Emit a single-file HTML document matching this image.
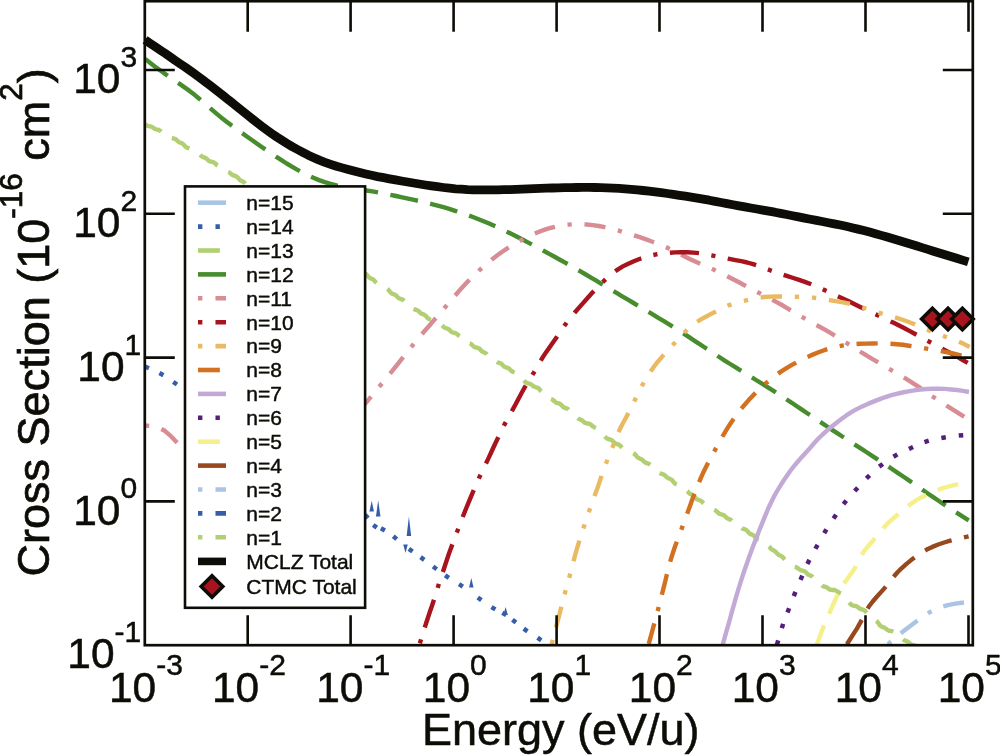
<!DOCTYPE html>
<html lang="en"><head><meta charset="utf-8"><title>Cross Section vs Energy</title>
<style>html,body{margin:0;padding:0;background:#fff}body{width:1000px;height:755px;overflow:hidden}svg{display:block}</style></head>
<body>
<svg width="1000" height="755" viewBox="0 0 1000 755">
<defs><clipPath id="pc"><rect x="144.8" y="1.2" width="828.0" height="644.0"/></clipPath></defs>
<rect width="1000" height="755" fill="#fff"/>
<g clip-path="url(#pc)" fill="none" stroke-linejoin="round">
<g fill="#355da8" stroke="none"><rect x="-2.25" y="-2.25" width="4.5" height="4.5" transform="translate(146.9,367.4) rotate(24)"/><rect x="-2.25" y="-2.25" width="4.5" height="4.5" transform="translate(161.4,374.1) rotate(28)"/><rect x="-2.25" y="-2.25" width="4.5" height="4.5" transform="translate(175.1,383.2) rotate(35)"/></g>
<g fill="#355da8" stroke="none"><rect x="-2.25" y="-2.25" width="4.5" height="4.5" transform="translate(366.5,516.4) rotate(47)"/><rect x="-2.25" y="-2.25" width="4.5" height="4.5" transform="translate(375.0,526.3) rotate(37)"/><rect x="-2.25" y="-2.25" width="4.5" height="4.5" transform="translate(382.9,529.4) rotate(28)"/><rect x="-2.25" y="-2.25" width="4.5" height="4.5" transform="translate(395.0,537.7) rotate(40)"/><rect x="-2.25" y="-2.25" width="4.5" height="4.5" transform="translate(410.7,550.2) rotate(36)"/><rect x="-2.25" y="-2.25" width="4.5" height="4.5" transform="translate(422.4,558.5) rotate(36)"/><rect x="-2.25" y="-2.25" width="4.5" height="4.5" transform="translate(434.9,567.9) rotate(37)"/><rect x="-2.25" y="-2.25" width="4.5" height="4.5" transform="translate(447.0,576.7) rotate(34)"/><rect x="-2.25" y="-2.25" width="4.5" height="4.5" transform="translate(460.9,585.3) rotate(33)"/><rect x="-2.25" y="-2.25" width="4.5" height="4.5" transform="translate(479.6,598.8) rotate(37)"/><rect x="-2.25" y="-2.25" width="4.5" height="4.5" transform="translate(493.4,608.2) rotate(30)"/><rect x="-2.25" y="-2.25" width="4.5" height="4.5" transform="translate(504.3,613.9) rotate(31)"/><rect x="-2.25" y="-2.25" width="4.5" height="4.5" transform="translate(514.2,621.2) rotate(39)"/><rect x="-2.25" y="-2.25" width="4.5" height="4.5" transform="translate(525.6,630.0) rotate(36)"/><rect x="-2.25" y="-2.25" width="4.5" height="4.5" transform="translate(539.4,639.0) rotate(35)"/></g>
<path d="M145.1,124.2 L146.3,125.2 L147.6,125.9 L149.2,126.2 L150.7,126.4 L152.1,127.0 L153.4,127.8 L154.6,128.7 L156.0,129.3 L157.5,129.6 L159.0,130.0 L160.3,130.8 L161.4,131.9 L162.6,133.0 L163.8,133.8 L165.3,134.3 L166.8,134.7 L168.1,135.5 L169.2,136.5 L170.4,137.5 L171.7,138.1 L173.3,138.4 L174.8,138.8 L176.1,139.5 L177.2,140.6 L178.4,141.7 L179.6,142.5 L181.1,143.0 L182.5,143.6 L183.7,144.6 L184.7,145.8 L185.7,146.9 L187.0,147.7 L188.5,148.1 L190.0,148.6 L191.3,149.3 L192.5,150.3 L193.6,151.3 L195.0,151.9 L196.5,152.4 L198.0,152.8 L199.2,153.7 L200.3,154.9 L201.3,156.0 L202.6,156.9 L204.0,157.4 L205.4,157.9 L206.7,158.8 L207.8,159.9 L208.9,160.9 L210.3,161.5 L211.9,161.9 L213.4,162.2 L214.7,163.0 L215.8,164.0 L217.0,165.1 L218.3,165.8 L219.7,166.3 L221.1,166.9 L222.3,167.9 L223.3,169.1 L224.4,170.3 L225.7,171.0 L227.1,171.5 L228.6,172.0 L229.9,172.8 L231.0,173.8 L232.1,174.8 L233.5,175.5 L235.0,175.9 L236.5,176.5 L237.7,177.4 L238.7,178.6 L239.7,179.8 L240.9,180.7 L242.3,181.3 L243.6,182.0 L244.8,183.0 L245.7,184.2 L246.8,185.3 L248.1,186.1 L249.6,186.6 L251.1,187.1 L252.3,188.0 L253.3,189.2 L254.3,190.3 L255.5,191.2 L256.9,191.8 L258.2,192.6 L259.3,193.7 L260.1,195.1 L261.0,196.3 L262.2,197.2 L263.6,197.9 L265.0,198.6 L266.1,199.6 L267.1,200.8 L268.1,201.9 L269.4,202.7 L270.9,203.3 L272.3,204.0 L273.4,205.0 L274.2,206.3 L275.1,207.6 L276.3,208.6 L277.6,209.3 L278.9,210.1 L279.9,211.3 L280.8,212.6 L281.7,213.8 L283.0,214.6 L284.5,215.2 L285.9,215.9 L287.0,216.9 L288.0,218.1 L289.0,219.2 L290.3,220.0 L291.7,220.7 L293.0,221.5 L294.0,222.6 L294.8,224.0 L295.7,225.3 L296.9,226.2 L298.3,226.8 L299.6,227.6 L300.8,228.6 L301.7,229.8 L302.8,230.8 L304.2,231.5 L305.7,232.0 L307.1,232.7 L308.2,233.7 L309.1,235.0 L310.2,236.1 L311.4,237.0 L312.8,237.6 L314.1,238.4 L315.1,239.5 L316.0,240.8 L317.1,241.9 L318.4,242.6 L319.9,243.1 L321.4,243.7 L322.5,244.7 L323.6,245.8 L324.7,246.8 L326.1,247.4 L327.6,248.0 L328.9,248.7 L330.0,249.8 L330.9,251.1 L331.9,252.2 L333.2,253.0 L334.6,253.6 L336.0,254.3 L337.1,255.3 L338.2,256.4 L339.3,257.4 L340.7,258.0 L342.3,258.4 L343.7,259.0 L344.9,259.9 L345.9,261.1 L347.0,262.2 L348.3,262.9 L349.8,263.5 L351.1,264.3 L352.1,265.4 L353.1,266.6 L354.2,267.7 L355.5,268.4 L357.0,268.8 L358.5,269.4 L359.6,270.4 L360.7,271.5 L361.9,272.4 L363.3,273.0 L364.8,273.4 L366.2,274.1 L367.3,275.2 L368.2,276.5 L369.3,277.6 L370.6,278.4 L372.0,278.9 L373.3,279.7 L374.4,280.7 L375.4,281.9 L376.6,282.9 L378.0,283.4 L379.6,283.8 L381.0,284.4 L382.2,285.4 L383.2,286.6 L384.3,287.6 L385.6,288.3 L387.1,288.9 L388.3,289.7 L389.4,290.9 L390.3,292.2 L391.4,293.3 L392.7,293.9 L394.2,294.5 L395.6,295.1 L396.7,296.1 L397.7,297.3 L398.9,298.2 L400.4,298.8 L401.9,299.3 L403.2,300.0 L404.2,301.1 L405.2,302.4 L406.2,303.5 L407.5,304.3 L408.9,304.9 L410.2,305.7 L411.3,306.8 L412.2,308.0 L413.4,309.0 L414.9,309.5 L416.4,309.9 L417.8,310.6 L419.0,311.5 L420.0,312.6 L421.2,313.6 L422.6,314.2 L424.1,314.7 L425.4,315.5 L426.4,316.6 L427.4,317.8 L428.6,318.8 L430.0,319.4 L431.5,319.8 L432.9,320.4 L434.1,321.4 L435.2,322.4 L436.5,323.1 L438.0,323.6 L439.6,323.9 L441.0,324.5 L442.1,325.4 L443.2,326.6 L444.4,327.5 L445.8,328.1 L447.3,328.6 L448.6,329.3 L449.8,330.3 L450.9,331.4 L452.1,332.3 L453.6,332.7 L455.1,333.1 L456.5,333.6 L457.7,334.6 L458.8,335.7 L460.0,336.6 L461.4,337.2 L462.9,337.7 L464.1,338.6 L465.1,339.8 L466.0,341.1 L467.1,342.2 L468.5,342.9 L469.9,343.4 L471.2,344.2 L472.3,345.2 L473.4,346.3 L474.7,347.1 L476.2,347.5 L477.8,347.9 L479.2,348.5 L480.3,349.6 L481.3,350.7 L482.5,351.7 L483.9,352.3 L485.3,352.9 L486.5,353.8 L487.5,355.1 L488.4,356.3 L489.5,357.3 L490.9,358.0 L492.4,358.5 L493.7,359.2 L494.8,360.3 L495.9,361.4 L497.2,362.2 L498.6,362.7 L500.1,363.1 L501.4,363.8 L502.5,364.9 L503.6,366.1 L504.9,367.0 L506.3,367.5 L507.8,367.9 L509.1,368.7 L510.2,369.7 L511.3,370.8 L512.5,371.6 L513.9,372.2 L515.4,372.8 L516.7,373.6 L517.6,374.8 L518.5,376.1 L519.6,377.2 L520.9,377.9 L522.3,378.7 L523.4,379.6 L524.4,380.9 L525.4,382.1 L526.6,382.9 L528.1,383.4 L529.7,383.7 L531.0,384.4 L532.3,385.3 L533.4,386.2 L534.8,386.9 L536.3,387.3 L537.8,387.8 L539.0,388.7 L540.0,389.9 L540.9,391.2 L542.0,392.3 L543.3,393.1 L544.6,393.9 L545.7,394.9 L546.6,396.1 L547.5,397.4 L548.8,398.3 L550.2,398.8 L551.7,399.3 L553.1,400.0 L554.2,401.0 L555.3,402.0 L556.6,402.8 L558.1,403.2 L559.6,403.7 L560.9,404.5 L562.0,405.6 L563.0,406.8 L564.3,407.6 L565.7,408.1 L567.2,408.6 L568.4,409.5 L569.4,410.6 L570.4,411.8 L571.6,412.7 L573.0,413.4 L574.4,414.1 L575.5,415.2 L576.3,416.5 L577.2,417.7 L578.4,418.7 L579.8,419.3 L581.2,419.9 L582.5,420.7 L583.6,421.7 L584.8,422.7 L586.2,423.3 L587.8,423.5 L589.4,423.8 L590.7,424.5 L591.9,425.5 L593.0,426.5 L594.3,427.3 L595.7,427.9 L597.1,428.6 L598.1,429.7 L598.9,431.1 L599.7,432.5 L600.8,433.5 L602.1,434.3 L603.5,435.0 L604.6,436.0 L605.6,437.2 L606.7,438.3 L608.1,439.0 L609.6,439.4 L611.1,439.8 L612.3,440.6 L613.4,441.7 L614.5,442.8 L615.8,443.6 L617.3,444.1 L618.7,444.6 L620.0,445.5 L621.1,446.6 L622.2,447.7 L623.6,448.3 L625.1,448.7 L626.6,449.1 L627.9,449.9 L629.0,450.9 L630.2,451.9 L631.5,452.6 L633.0,453.1 L634.3,453.8 L635.5,454.8 L636.4,456.1 L637.4,457.2 L638.7,458.1 L640.1,458.7 L641.5,459.3 L642.7,460.2 L643.8,461.3 L644.9,462.3 L646.3,463.0 L647.8,463.4 L649.2,464.0 L650.4,464.9 L651.4,466.1 L652.5,467.2 L653.7,468.1 L655.1,468.7 L656.4,469.4 L657.5,470.5 L658.5,471.7 L659.5,472.9 L660.9,473.6 L662.4,474.1 L663.8,474.6 L665.0,475.5 L666.1,476.6 L667.2,477.6 L668.6,478.3 L670.0,478.9 L671.4,479.5 L672.5,480.6 L673.4,481.9 L674.4,483.1 L675.7,483.9 L677.1,484.5 L678.5,485.2 L679.6,486.2 L680.6,487.3 L681.7,488.4 L683.1,489.0 L684.7,489.5 L686.1,490.0 L687.3,491.0 L688.3,492.1 L689.3,493.3 L690.6,494.1 L692.0,494.7 L693.3,495.4 L694.4,496.5 L695.3,497.8 L696.4,498.9 L697.7,499.7 L699.2,500.1 L700.7,500.7 L701.9,501.6 L703.0,502.7 L704.1,503.6 L705.5,504.2 L707.0,504.7 L708.4,505.3 L709.6,506.3 L710.6,507.5 L711.6,508.7 L712.9,509.4 L714.4,510.0 L715.7,510.6 L716.9,511.6 L718.0,512.7 L719.1,513.7 L720.6,514.2 L722.1,514.6 L723.6,515.1 L724.8,516.0 L725.9,517.1 L727.0,518.1 L728.3,518.8 L729.8,519.3 L731.1,520.1 L732.2,521.2 L733.1,522.4 L734.2,523.5 L735.6,524.3 L737.0,524.7 L738.5,525.3 L739.6,526.3 L740.7,527.3 L741.9,528.3 L743.3,528.9 L744.9,529.3 L746.2,529.9 L747.4,531.0 L748.3,532.2 L749.4,533.3 L750.7,534.1 L752.1,534.6 L753.5,535.4 L754.6,536.4 L755.6,537.6 L756.7,538.6 L758.2,539.2 L759.7,539.6 L761.1,540.2 L762.3,541.1 L763.3,542.3 L764.5,543.3 L765.8,544.0 L767.2,544.6 L768.5,545.4 L769.5,546.6 L770.3,548.0 L771.3,549.2 L772.6,550.0 L774.0,550.6 L775.3,551.4 L776.3,552.5 L777.3,553.7 L778.4,554.7 L779.8,555.4 L781.2,556.0 L782.5,556.8 L783.5,558.0 L784.4,559.3 L785.4,560.5 L786.6,561.3 L788.0,562.0 L789.2,562.9 L790.3,564.0 L791.2,565.3 L792.4,566.2 L793.9,566.8 L795.4,567.1 L796.9,567.6 L798.1,568.4 L799.3,569.4 L800.7,570.1 L802.1,570.6 L803.7,570.9 L805.0,571.5 L806.2,572.6 L807.3,573.8 L808.4,574.7 L809.8,575.4 L811.2,575.9 L812.5,576.7 L813.5,577.8 L814.4,579.1 L815.5,580.1 L816.9,580.9 L818.3,581.6 L819.5,582.4 L820.5,583.6 L821.4,584.9 L822.5,585.9 L823.9,586.5 L825.4,586.9 L826.8,587.4 L828.0,588.3 L829.3,589.3 L830.8,589.9 L832.3,590.0 L833.9,590.0 L835.4,590.4 L836.8,591.1 L838.0,592.0 L839.3,592.7 L840.7,593.3 L842.1,593.9 L843.2,594.9 L844.0,596.3 L844.6,597.8 L845.5,599.1 L846.6,600.1 L847.9,601.0 L849.0,602.0 L849.9,603.3 L850.9,604.4 L852.2,605.3 L853.7,605.7 L855.3,605.9 L856.7,606.4 L858.0,607.3 L859.2,608.3 L860.6,609.0 L862.1,609.4 L863.5,609.8 L864.8,610.6 L865.9,611.8 L866.9,612.9 L868.0,613.9 L869.3,614.6 L870.7,615.3 L871.8,616.3 L872.6,617.6 L873.4,618.9 L874.5,620.0 L875.8,620.9 L877.1,621.7 L878.1,622.8 L879.0,624.0 L879.8,625.3 L881.0,626.3 L882.4,626.9 L883.8,627.4 L885.2,628.1 L886.3,629.1 L887.6,630.1 L889.0,630.7 L890.5,630.9 L892.1,631.2 L893.5,631.8 L894.7,632.7 L895.9,633.8 L897.2,634.6 L898.6,635.2 L900.0,635.8 L901.1,636.8 L902.1,638.1 L903.0,639.3 L904.2,640.3 L905.6,640.8 L907.1,641.4 L908.4,642.1 L909.5,643.2 L910.7,644.2 L912.0,644.8 L913.6,645.2 L915.1,645.6 L916.3,646.5" stroke="#b2d073" stroke-width="4.4" stroke-dasharray="21.04,12.62" stroke-dashoffset="2.94"/>
<path d="M145.2,59.0 L150.0,62.7 L154.8,66.4 L159.7,70.0 L164.6,73.6 L169.6,77.1 L174.6,80.5 L179.6,83.9 L184.6,87.4 L189.5,90.9 L194.3,94.6 L199.0,98.5 L203.6,102.4 L208.2,106.4 L212.7,110.4 L217.4,114.4 L222.1,118.2 L226.9,121.9 L231.7,125.6 L236.6,129.1 L241.6,132.7 L246.5,136.2 L251.5,139.7 L256.4,143.2 L261.4,146.7 L266.4,150.1 L271.4,153.5 L276.4,156.9 L281.5,160.2 L286.7,163.5 L291.9,166.6 L297.1,169.6 L302.5,172.5 L307.9,175.3 L313.4,177.8 L319.0,180.1 L324.8,182.1 L330.6,183.9 L336.5,185.4 L342.4,186.7 L348.4,187.8 L354.4,188.7 L360.4,189.6 L366.4,190.5 L372.4,191.4 L378.4,192.5 L384.3,193.6 L390.3,194.8 L396.2,196.0 L402.2,197.3 L408.1,198.6 L414.0,199.9 L420.0,201.2 L425.9,202.6 L431.7,204.1 L437.6,205.6 L443.5,207.2 L449.3,208.9 L455.1,210.8 L460.8,212.7 L466.6,214.7 L472.3,216.8 L477.9,219.0 L483.6,221.2 L489.2,223.6 L494.7,226.1 L500.2,228.6 L505.7,231.2 L511.2,233.8 L516.6,236.5 L522.0,239.3 L527.4,242.1 L532.8,244.9 L538.1,247.8 L543.5,250.7 L548.8,253.6 L554.1,256.5 L559.4,259.5 L564.7,262.4 L570.0,265.4 L575.3,268.4 L580.5,271.4 L585.8,274.5 L591.0,277.6 L596.2,280.7 L601.4,283.8 L606.6,287.0 L611.8,290.1 L617.0,293.2 L622.2,296.3 L627.5,299.4 L632.7,302.5 L637.9,305.6 L643.1,308.7 L648.3,311.8 L653.5,314.9 L658.7,318.1 L663.9,321.2 L669.1,324.4 L674.2,327.6 L679.3,330.9 L684.5,334.1 L689.5,337.4 L694.6,340.8 L699.7,344.1 L704.8,347.5 L709.8,350.8 L714.9,354.1 L720.0,357.5 L725.1,360.8 L730.2,364.0 L735.3,367.2 L740.5,370.4 L745.7,373.6 L750.8,376.8 L756.0,380.0 L761.2,383.1 L766.3,386.4 L771.5,389.6 L776.6,392.9 L781.7,396.2 L786.7,399.5 L791.8,402.8 L796.8,406.2 L801.9,409.6 L806.9,413.0 L812.0,416.3 L817.0,419.7 L822.0,423.1 L827.1,426.5 L832.1,429.8 L837.2,433.2 L842.3,436.5 L847.4,439.8 L852.5,443.1 L857.6,446.4 L862.7,449.7 L867.8,453.0 L872.9,456.3 L877.9,459.6 L883.0,463.0 L888.1,466.3 L893.1,469.7 L898.1,473.1 L903.2,476.5 L908.2,479.9 L913.2,483.4 L918.2,486.8 L923.2,490.3 L928.2,493.7 L933.2,497.1 L938.2,500.5 L943.2,503.9 L948.3,507.3 L953.4,510.6 L958.5,513.9 L963.6,517.1 L968.7,520.4" stroke="#478d2e" stroke-width="4.4" stroke-dasharray="28.24,12.55" stroke-dashoffset="0.14"/>
<path d="M145.0,425.5 L152.1,426.1 L158.8,427.6 L164.8,430.8 L170.0,435.3 L175.0,440.5 L179.9,445.6 L184.9,450.4 L190.0,455.0" stroke="#d88c93" stroke-width="4.4" stroke-dasharray="4.22,12.66,21.1,12.66" stroke-dashoffset="0"/>
<path d="M340.0,432.0 L344.1,427.5 L348.1,423.0 L352.1,418.5 L356.2,413.9 L360.2,409.4 L364.1,404.8 L368.1,400.2 L372.0,395.5 L375.9,390.9 L379.7,386.2 L383.6,381.5 L387.5,376.9 L391.3,372.2 L395.1,367.4 L398.9,362.7 L402.6,357.9 L406.3,353.1 L410.1,348.4 L413.9,343.7 L417.8,339.0 L421.7,334.4 L425.7,329.8 L429.7,325.2 L433.6,320.6 L437.6,316.0 L441.5,311.4 L445.5,306.8 L449.4,302.2 L453.3,297.5 L457.3,293.0 L461.3,288.4 L465.4,284.0 L469.6,279.6 L473.9,275.3 L478.3,271.2 L482.8,267.1 L487.5,263.1 L492.2,259.3 L497.0,255.6 L501.9,252.0 L506.9,248.6 L512.0,245.4 L517.3,242.3 L522.6,239.4 L528.0,236.6 L533.5,234.0 L539.1,231.7 L544.8,229.6 L550.6,227.9 L556.5,226.4 L562.5,225.3 L568.5,224.6 L574.6,224.2 L580.7,224.2 L586.7,224.5 L592.8,225.1 L598.8,226.0 L604.7,227.2 L610.7,228.5 L616.5,230.0 L622.4,231.7 L628.2,233.5 L633.9,235.3 L639.7,237.2 L645.4,239.2 L651.1,241.3 L656.8,243.4 L662.5,245.6 L668.0,248.1 L673.5,250.7 L678.9,253.5 L684.3,256.2 L689.7,259.0 L695.2,261.5 L700.7,264.0 L706.3,266.4 L711.8,268.8 L717.4,271.4 L722.8,274.0 L728.2,276.7 L733.6,279.5 L739.0,282.3 L744.4,285.2 L749.7,288.0 L755.1,290.8 L760.5,293.6 L765.8,296.4 L771.2,299.2 L776.6,302.1 L781.9,305.0 L787.1,308.1 L792.3,311.2 L797.5,314.3 L802.8,317.4 L808.0,320.4 L813.4,323.3 L818.7,326.2 L824.0,329.1 L829.2,332.2 L834.4,335.3 L839.5,338.6 L844.6,341.8 L849.8,345.1 L854.9,348.3 L860.0,351.5 L865.2,354.7 L870.4,357.8 L875.6,360.9 L880.8,364.0 L886.1,367.1 L891.3,370.1 L896.6,373.2 L901.8,376.2 L907.0,379.4 L912.1,382.6 L917.2,385.9 L922.2,389.3 L927.2,392.8 L932.2,396.2 L937.2,399.6 L942.3,402.9 L947.4,406.2 L952.5,409.4 L957.7,412.7 L962.8,415.8 L968.0,419.0" stroke="#d88c93" stroke-width="4.4" stroke-dasharray="4.24,12.73,21.22,12.73" stroke-dashoffset="41.97"/>
<path d="M415.4,658.1 L417.2,652.3 L419.0,646.5 L420.7,640.7 L422.5,634.9 L424.2,629.1 L426.1,623.3 L428.0,617.5 L429.9,611.8 L431.9,606.0 L433.8,600.2 L435.6,594.4 L437.4,588.6 L439.2,582.8 L441.2,577.1 L443.1,571.3 L445.0,565.5 L446.9,559.7 L448.8,554.0 L450.9,548.3 L453.0,542.6 L455.1,536.9 L457.3,531.2 L459.5,525.5 L461.6,519.8 L463.8,514.2 L466.1,508.5 L468.4,502.9 L470.7,497.3 L473.1,491.7 L475.5,486.1 L477.9,480.5 L480.4,475.0 L483.0,469.5 L485.7,464.0 L488.3,458.6 L490.9,453.0 L493.4,447.5 L496.0,442.0 L498.6,436.5 L501.2,431.0 L503.9,425.6 L506.8,420.3 L509.8,415.0 L512.7,409.6 L515.6,404.3 L518.4,398.9 L521.3,393.5 L524.2,388.2 L527.4,383.0 L530.6,377.9 L533.8,372.7 L536.8,367.4 L539.8,362.1 L543.0,356.9 L546.3,351.9 L549.8,346.9 L553.3,341.9 L556.8,336.9 L560.1,331.9 L563.6,326.9 L567.1,322.0 L570.9,317.2 L574.8,312.5 L578.8,307.9 L582.8,303.4 L586.9,298.8 L590.9,294.3 L595.1,289.8 L599.3,285.5 L603.6,281.2 L608.1,277.0 L612.7,273.1 L617.6,269.6 L622.8,266.4 L628.3,263.7 L633.8,261.2 L639.5,259.0 L645.3,257.1 L651.1,255.5 L657.1,254.2 L663.1,253.3 L669.2,252.8 L675.2,252.4 L681.3,252.2 L687.4,252.3 L693.5,252.6 L699.5,253.2 L705.5,254.1 L711.5,255.3 L717.5,256.5 L723.4,257.7 L729.4,258.9 L735.4,260.1 L741.3,261.2 L747.3,262.5 L753.1,264.1 L758.9,266.0 L764.6,268.1 L770.3,270.3 L776.0,272.3 L781.8,274.3 L787.5,276.1 L793.3,278.0 L799.1,279.9 L804.9,281.9 L810.5,284.0 L816.2,286.3 L821.7,288.8 L827.2,291.3 L832.8,293.9 L838.3,296.4 L843.8,299.0 L849.3,301.6 L854.7,304.3 L860.2,306.9 L865.7,309.6 L871.1,312.2 L876.6,314.8 L882.1,317.4 L887.6,320.0 L893.1,322.6 L898.6,325.3 L904.0,328.0 L909.4,330.9 L914.7,333.8 L920.0,336.7 L925.4,339.6 L930.7,342.5 L936.1,345.4 L941.4,348.2 L946.8,351.1 L952.2,354.0 L957.5,356.9 L962.7,360.0 L968.0,363.0" stroke="#a8141d" stroke-width="4.4" stroke-dasharray="4.17,12.51,29.2,12.51" stroke-dashoffset="43.06"/>
<path d="M548.2,657.8 L549.7,651.9 L551.2,646.0 L552.7,640.1 L554.2,634.2 L555.8,628.3 L557.3,622.4 L558.9,616.5 L560.4,610.5 L561.9,604.6 L563.4,598.7 L565.0,592.8 L566.6,586.9 L568.3,581.1 L569.9,575.2 L571.5,569.3 L573.0,563.4 L574.5,557.4 L576.1,551.6 L577.9,545.7 L579.6,539.9 L581.5,534.0 L583.4,528.2 L585.3,522.4 L587.2,516.6 L589.2,510.9 L591.3,505.1 L593.4,499.4 L595.4,493.6 L597.5,487.9 L599.5,482.1 L601.4,476.3 L603.4,470.6 L605.5,464.8 L607.7,459.1 L610.0,453.5 L612.3,447.8 L614.5,442.1 L616.7,436.4 L619.1,430.8 L621.8,425.3 L624.7,420.0 L627.6,414.6 L630.4,409.2 L633.1,403.7 L635.7,398.2 L638.4,392.7 L641.2,387.2 L644.1,381.9 L647.2,376.6 L650.6,371.5 L654.1,366.5 L657.8,361.7 L661.8,357.1 L665.9,352.5 L670.1,348.1 L674.2,343.6 L678.3,339.0 L682.4,334.5 L686.8,330.2 L691.3,326.2 L696.2,322.4 L701.3,319.1 L706.7,316.2 L712.1,313.4 L717.6,310.6 L723.0,307.9 L728.6,305.3 L734.3,303.4 L740.2,301.8 L746.2,300.4 L752.2,299.0 L758.1,297.8 L764.2,297.0 L770.3,296.6 L776.4,296.5 L782.5,296.5 L788.6,296.6 L794.7,296.7 L800.8,296.9 L806.9,297.2 L813.0,297.6 L819.1,298.4 L825.1,299.4 L831.1,300.4 L837.1,301.4 L843.2,302.4 L849.1,303.7 L855.0,305.2 L860.9,307.0 L866.7,308.9 L872.5,310.7 L878.3,312.5 L884.2,314.2 L890.1,315.9 L895.9,317.6 L901.8,319.5 L907.5,321.5 L913.2,323.7 L918.8,326.1 L924.4,328.5 L930.1,330.9 L935.7,333.1 L941.4,335.3 L947.2,337.4 L953.0,339.4 L958.7,341.6 L964.2,344.1 L969.6,347.0" stroke="#e9ba61" stroke-width="4.4" stroke-dasharray="4.28,12.84,21.4,12.84,4.28,12.84" stroke-dashoffset="54.27"/>
<path d="M644.9,658.1 L646.5,652.2 L648.1,646.3 L649.7,640.4 L651.3,634.5 L652.9,628.7 L654.5,622.8 L656.1,616.9 L657.7,611.0 L659.2,605.1 L660.7,599.2 L662.2,593.3 L663.7,587.4 L665.2,581.5 L666.6,575.5 L668.1,569.6 L669.7,563.7 L671.3,557.8 L673.2,552.0 L675.1,546.3 L677.2,540.5 L679.3,534.8 L681.5,529.1 L683.6,523.4 L685.7,517.7 L687.8,511.9 L689.9,506.2 L691.9,500.5 L694.1,494.7 L696.2,489.0 L698.5,483.4 L700.9,477.8 L703.4,472.2 L706.1,466.8 L708.9,461.3 L711.8,456.0 L714.7,450.6 L717.6,445.2 L720.6,439.9 L723.6,434.6 L726.7,429.4 L730.0,424.2 L733.4,419.2 L737.0,414.2 L740.8,409.4 L744.7,404.7 L748.7,400.1 L752.8,395.7 L757.1,391.3 L761.6,387.1 L766.1,383.1 L770.8,379.2 L775.6,375.4 L780.6,371.9 L785.7,368.6 L791.0,365.4 L796.3,362.5 L801.7,359.7 L807.3,357.1 L812.8,354.6 L818.5,352.3 L824.2,350.2 L830.0,348.4 L835.9,346.8 L841.9,345.6 L847.9,344.8 L854.0,344.2 L860.1,343.8 L866.2,343.6 L872.3,343.5 L878.4,343.4 L884.6,343.5 L890.6,343.8 L896.7,344.2 L902.8,344.8 L908.8,345.7 L914.8,346.6 L920.8,347.7 L926.9,348.7 L932.9,349.7 L938.9,350.7 L944.9,351.8 L950.9,353.0 L956.8,354.4 L962.7,355.9 L968.6,357.5" stroke="#d2711f" stroke-width="4.4" stroke-dasharray="21.22,12.73,4.24,12.73,21.22,12.73" stroke-dashoffset="70.16"/>
<path d="M718.9,658.0 L720.6,652.2 L722.2,646.3 L723.9,640.4 L725.5,634.6 L727.2,628.7 L728.9,622.8 L730.5,617.0 L732.1,611.1 L733.8,605.2 L735.4,599.3 L737.1,593.5 L738.9,587.7 L740.7,581.8 L742.6,576.0 L744.5,570.3 L746.5,564.5 L748.5,558.7 L750.6,553.0 L752.7,547.3 L754.9,541.6 L757.1,535.9 L759.3,530.2 L761.6,524.6 L763.9,518.9 L766.2,513.3 L768.6,507.7 L771.2,502.2 L773.9,496.7 L776.9,491.4 L780.1,486.2 L783.3,481.0 L786.7,476.0 L790.2,471.0 L794.0,466.2 L797.9,461.5 L801.9,456.9 L806.0,452.4 L810.1,447.9 L814.1,443.3 L818.2,438.8 L822.6,434.5 L827.1,430.4 L831.8,426.5 L836.5,422.7 L841.4,419.0 L846.3,415.4 L851.4,412.1 L856.7,409.1 L862.2,406.4 L867.8,403.9 L873.4,401.6 L879.1,399.4 L884.8,397.3 L890.6,395.4 L896.5,393.8 L902.4,392.5 L908.4,391.3 L914.4,390.3 L920.5,389.5 L926.6,389.0 L932.6,388.7 L938.7,388.6 L944.8,388.9 L950.9,389.5 L957.0,390.0 L963.0,390.9 L969.0,392.0" stroke="#c3aad6" stroke-width="4.4"/>
<g fill="#531e7c" stroke="none"><rect x="-2.25" y="-2.25" width="4.5" height="4.5" transform="translate(777.6,642.5) rotate(-75)"/><rect x="-2.25" y="-2.25" width="4.5" height="4.5" transform="translate(782.5,626.0) rotate(-73)"/><rect x="-2.25" y="-2.25" width="4.5" height="4.5" transform="translate(788.3,610.4) rotate(-69)"/><rect x="-2.25" y="-2.25" width="4.5" height="4.5" transform="translate(794.6,594.0) rotate(-68)"/><rect x="-2.25" y="-2.25" width="4.5" height="4.5" transform="translate(801.4,577.7) rotate(-67)"/><rect x="-2.25" y="-2.25" width="4.5" height="4.5" transform="translate(808.4,561.9) rotate(-63)"/><rect x="-2.25" y="-2.25" width="4.5" height="4.5" transform="translate(816.5,546.8) rotate(-61)"/><rect x="-2.25" y="-2.25" width="4.5" height="4.5" transform="translate(825.3,531.2) rotate(-60)"/><rect x="-2.25" y="-2.25" width="4.5" height="4.5" transform="translate(834.8,516.6) rotate(-56)"/><rect x="-2.25" y="-2.25" width="4.5" height="4.5" transform="translate(844.9,502.3) rotate(-52)"/><rect x="-2.25" y="-2.25" width="4.5" height="4.5" transform="translate(856.2,489.4) rotate(-47)"/><rect x="-2.25" y="-2.25" width="4.5" height="4.5" transform="translate(868.0,476.9) rotate(-44)"/><rect x="-2.25" y="-2.25" width="4.5" height="4.5" transform="translate(881.0,465.3) rotate(-37)"/><rect x="-2.25" y="-2.25" width="4.5" height="4.5" transform="translate(895.4,455.6) rotate(-31)"/><rect x="-2.25" y="-2.25" width="4.5" height="4.5" transform="translate(911.0,448.0) rotate(-25)"/><rect x="-2.25" y="-2.25" width="4.5" height="4.5" transform="translate(926.6,441.4) rotate(-18)"/><rect x="-2.25" y="-2.25" width="4.5" height="4.5" transform="translate(943.6,437.6) rotate(-9)"/><rect x="-2.25" y="-2.25" width="4.5" height="4.5" transform="translate(961.0,435.4) rotate(-5)"/></g>
<path d="M812.5,656.5 L814.6,650.7 L816.8,644.9 L818.9,639.1 L821.0,633.3 L823.2,627.6 L825.5,621.9 L828.0,616.2 L830.5,610.6 L833.0,604.9 L835.5,599.3 L838.2,593.8 L841.2,588.3 L844.4,583.1 L847.9,578.0 L851.6,573.0 L855.0,567.9 L857.9,562.4 L860.6,556.9 L863.7,551.6 L867.5,546.8 L871.7,542.2 L875.7,537.5 L879.5,532.6 L883.4,527.9 L887.6,523.4 L892.2,519.3 L897.0,515.3 L901.6,511.3 L906.4,507.3 L911.3,503.6 L916.4,500.2 L921.8,497.2 L927.3,494.4 L932.9,491.9 L938.7,489.6 L944.5,487.7 L950.5,486.0 L956.5,484.6 L962.5,483.4 L968.6,482.3" stroke="#f6f08a" stroke-width="4.4" stroke-dasharray="21.14,12.68" stroke-dashoffset="21.78"/>
<path d="M840.1,655.1 L843.4,649.8 L846.7,644.5 L850.1,639.2 L853.5,633.9 L856.9,628.6 L860.0,623.2 L862.9,617.6 L865.8,611.9 L868.9,606.5 L872.7,601.5 L876.8,596.8 L881.0,592.1 L885.2,587.4 L889.1,582.4 L893.0,577.5 L897.1,572.8 L901.5,568.3 L906.2,564.1 L911.1,560.1 L916.1,556.3 L921.3,552.8 L926.7,549.6 L932.4,546.9 L938.2,544.5 L944.2,542.5 L950.3,540.7 L956.4,539.1 L962.5,537.7 L968.6,536.3" stroke="#98481f" stroke-width="4.4" stroke-dasharray="28.51,12.67" stroke-dashoffset="28.33"/>
<path d="M878.0,652.7 L883.0,648.4 L888.1,644.1 L893.1,639.8 L898.2,635.5 L903.3,631.3 L908.6,627.2 L913.9,623.3 L919.2,619.3 L924.6,615.4 L930.2,611.9 L936.2,609.0 L942.5,606.7 L948.9,604.9 L955.4,603.6 L962.0,602.8 L968.6,602.2" stroke="#a9c5e3" stroke-width="4.4" stroke-dasharray="4.22,12.66,21.1,12.66" stroke-dashoffset="37.62"/>
<path d="M371.7,500.8 L373.95,511.5 L369.45,511.5 Z" fill="#355da8" stroke="none"/>
<path d="M378.2,500.3 L380.45,516.4 L375.95,516.4 Z" fill="#355da8" stroke="none"/>
<path d="M408.9,516.4 L411.15,536 L406.65,536 Z" fill="#355da8" stroke="none"/>
<path d="M405.5,553 L407.75,544.5 L403.25,544.5 Z" fill="#355da8" stroke="none"/>
<path d="M471.3,578 L473.55,587.5 L469.05,587.5 Z" fill="#355da8" stroke="none"/>
<path d="M505.6,607 L507.85,615 L503.35,615 Z" fill="#355da8" stroke="none"/>
</g>
<path d="M145.1,39.9 L150.1,43.3 L155.1,46.7 L160.2,50.1 L165.2,53.4 L170.2,56.9 L175.1,60.4 L180.2,63.8 L185.2,67.2 L190.1,70.7 L195.1,74.2 L199.9,77.8 L204.8,81.4 L209.6,85.1 L214.4,88.8 L219.2,92.5 L224.0,96.3 L228.7,100.1 L233.5,103.8 L238.2,107.6 L242.9,111.4 L247.6,115.2 L252.4,119.0 L257.2,122.7 L262.0,126.4 L266.8,130.0 L271.8,133.6 L276.8,137.0 L281.9,140.3 L287.0,143.5 L292.2,146.6 L297.5,149.5 L302.9,152.4 L308.3,155.2 L313.8,157.7 L319.3,160.1 L325.0,162.3 L330.7,164.3 L336.5,166.2 L342.3,167.9 L348.2,169.5 L354.0,171.1 L359.9,172.6 L365.8,174.0 L371.7,175.3 L377.6,176.6 L383.6,177.7 L389.5,178.8 L395.5,179.9 L401.5,181.0 L407.5,182.0 L413.4,183.0 L419.4,184.0 L425.4,185.0 L431.4,185.9 L437.4,186.7 L443.4,187.5 L449.4,188.2 L455.5,188.8 L461.5,189.2 L467.6,189.6 L473.6,189.8 L479.7,189.9 L485.7,189.9 L491.8,189.9 L497.9,189.8 L503.9,189.7 L510.0,189.6 L516.0,189.4 L522.1,189.2 L528.2,188.9 L534.2,188.6 L540.3,188.4 L546.3,188.1 L552.4,188.0 L558.4,187.8 L564.5,187.7 L570.6,187.6 L576.6,187.5 L582.7,187.4 L588.8,187.4 L594.8,187.5 L600.9,187.6 L606.9,187.8 L613.0,188.1 L619.0,188.4 L625.1,188.8 L631.1,189.3 L637.2,189.9 L643.2,190.5 L649.2,191.2 L655.2,191.9 L661.3,192.7 L667.3,193.5 L673.3,194.4 L679.3,195.3 L685.2,196.2 L691.2,197.1 L697.2,198.1 L703.2,199.2 L709.2,200.2 L715.1,201.4 L721.1,202.5 L727.0,203.6 L733.0,204.8 L738.9,205.9 L744.9,206.9 L750.9,208.0 L756.8,209.0 L762.8,210.1 L768.8,211.2 L774.7,212.2 L780.7,213.4 L786.6,214.5 L792.6,215.7 L798.5,216.9 L804.5,218.1 L810.4,219.3 L816.4,220.4 L822.3,221.5 L828.3,222.7 L834.2,223.8 L840.2,225.0 L846.1,226.3 L852.0,227.7 L857.9,229.1 L863.8,230.6 L869.6,232.1 L875.5,233.7 L881.3,235.4 L887.2,237.1 L893.0,238.8 L898.8,240.5 L904.6,242.3 L910.4,244.0 L916.2,245.8 L922.0,247.6 L927.8,249.4 L933.5,251.2 L939.3,253.0 L945.1,254.8 L950.9,256.5 L956.7,258.3 L962.5,260.1 L968.3,261.9" fill="none" stroke-linejoin="round" stroke="#0d0c07" stroke-width="8.8"/>
<path d="M932.4,308.2 L943.1999999999999,319.0 L932.4,329.8 L921.6,319.0 Z" fill="#a8141d" stroke="#0d0c07" stroke-width="3.6" stroke-linejoin="miter"/>
<path d="M948.0,308.2 L958.8,319.0 L948.0,329.8 L937.2,319.0 Z" fill="#a8141d" stroke="#0d0c07" stroke-width="3.6" stroke-linejoin="miter"/>
<path d="M962.4,308.2 L973.1999999999999,319.0 L962.4,329.8 L951.6,319.0 Z" fill="#a8141d" stroke="#0d0c07" stroke-width="3.6" stroke-linejoin="miter"/>
<g stroke="#0d0c07" fill="none">
<rect x="144.8" y="1.2" width="828.0" height="644.0" stroke-width="2.7"/>
<path d="M247.7,645.2 V615.2 M247.7,1.2 V31.8 M350.6,645.2 V615.2 M350.6,1.2 V31.8 M453.6,645.2 V615.2 M453.6,1.2 V31.8 M556.6,645.2 V615.2 M556.6,1.2 V31.8 M659.5,645.2 V615.2 M659.5,1.2 V31.8 M762.5,645.2 V615.2 M762.5,1.2 V31.8 M865.5,645.2 V615.2 M865.5,1.2 V31.8 M968.5,645.2 V615.2 M968.5,1.2 V31.8 M144.8,501.4 H174.8 M972.8,501.4 H942.8 M144.8,357.6 H174.8 M972.8,357.6 H942.8 M144.8,213.8 H174.8 M972.8,213.8 H942.8 M144.8,70.0 H174.8 M972.8,70.0 H942.8" stroke-width="2.6"/>
</g>
<rect x="185" y="186.4" width="180.10000000000002" height="421.4" fill="#fff" stroke="#0d0c07" stroke-width="2.6"/>
<g font-family="'Liberation Sans', Arial, Helvetica, sans-serif" font-size="21" fill="#0d0c07" stroke="#0d0c07" stroke-width="0.45">
<path d="M198,202.7 H226" stroke="#a9c5e3" stroke-width="4.6" fill="none"/>
<text x="246.3" y="210.0">n=15</text>
<path d="M198,226.6 H226" stroke="#355da8" stroke-width="4.6" fill="none" stroke-dasharray="4.37,13.11"/>
<text x="246.3" y="233.9">n=14</text>
<path d="M198,250.5 H226" stroke="#b2d073" stroke-width="4.6" fill="none" stroke-dasharray="21.85,13.11"/>
<text x="246.3" y="257.8">n=13</text>
<path d="M198,274.4 H226" stroke="#478d2e" stroke-width="4.6" fill="none" stroke-dasharray="29.5,13.11"/>
<text x="246.3" y="281.7">n=12</text>
<path d="M198,298.3 H226" stroke="#d88c93" stroke-width="4.6" fill="none" stroke-dasharray="4.37,13.11,21.85,13.11"/>
<text x="246.3" y="305.6">n=11</text>
<path d="M198,322.2 H226" stroke="#a8141d" stroke-width="4.6" fill="none" stroke-dasharray="4.37,13.11,30.59,13.11"/>
<text x="246.3" y="329.5">n=10</text>
<path d="M198,346.1 H226" stroke="#e9ba61" stroke-width="4.6" fill="none" stroke-dasharray="4.37,13.11,21.85,13.11,4.37,13.11"/>
<text x="246.3" y="353.4">n=9</text>
<path d="M198,370.0 H226" stroke="#d2711f" stroke-width="4.6" fill="none" stroke-dasharray="21.85,13.11,4.37,13.11,21.85,13.11"/>
<text x="246.3" y="377.3">n=8</text>
<path d="M198,393.9 H226" stroke="#c3aad6" stroke-width="4.6" fill="none"/>
<text x="246.3" y="401.2">n=7</text>
<path d="M198,417.8 H226" stroke="#531e7c" stroke-width="4.6" fill="none" stroke-dasharray="4.37,13.11"/>
<text x="246.3" y="425.1">n=6</text>
<path d="M198,441.7 H226" stroke="#f6f08a" stroke-width="4.6" fill="none" stroke-dasharray="21.85,13.11"/>
<text x="246.3" y="449.0">n=5</text>
<path d="M198,465.6 H226" stroke="#98481f" stroke-width="4.6" fill="none" stroke-dasharray="29.5,13.11"/>
<text x="246.3" y="472.9">n=4</text>
<path d="M198,489.5 H226" stroke="#a9c5e3" stroke-width="4.6" fill="none" stroke-dasharray="4.37,13.11,21.85,13.11"/>
<text x="246.3" y="496.8">n=3</text>
<path d="M198,513.4 H226" stroke="#355da8" stroke-width="4.6" fill="none" stroke-dasharray="4.37,13.11,30.59,13.11"/>
<text x="246.3" y="520.7">n=2</text>
<path d="M198,537.3 H226" stroke="#b2d073" stroke-width="4.6" fill="none" stroke-dasharray="4.37,13.11,21.85,13.11,4.37,13.11"/>
<text x="246.3" y="544.6">n=1</text>
<path d="M198,561.4 H226" stroke="#0d0c07" stroke-width="7.6" fill="none"/>
<text x="246.3" y="568.8">MCLZ Total</text>
<path d="M212,575.7 L222.8,586.5 L212,597.3 L201.2,586.5 Z" fill="#a8141d" stroke="#0d0c07" stroke-width="3.6" stroke-linejoin="miter"/>
<text x="246.3" y="593.6">CTMC Total</text>
</g>
<g font-family="'Liberation Sans', Arial, Helvetica, sans-serif" fill="#0d0c07" stroke="#0d0c07" stroke-width="0.5">
<text x="145.9" y="701.6" font-size="42.5" text-anchor="middle">10<tspan font-size="30" dy="-26.2">-3</tspan></text>
<text x="248.9" y="701.6" font-size="42.5" text-anchor="middle">10<tspan font-size="30" dy="-26.2">-2</tspan></text>
<text x="353.2" y="701.6" font-size="42.5" text-anchor="middle">10<tspan font-size="30" dy="-26.2">-1</tspan></text>
<text x="454.8" y="701.6" font-size="42.5" text-anchor="middle">10<tspan font-size="30" dy="-26.2">0</tspan></text>
<text x="559.2" y="701.6" font-size="42.5" text-anchor="middle">10<tspan font-size="30" dy="-26.2">1</tspan></text>
<text x="660.8" y="701.6" font-size="42.5" text-anchor="middle">10<tspan font-size="30" dy="-26.2">2</tspan></text>
<text x="763.7" y="701.6" font-size="42.5" text-anchor="middle">10<tspan font-size="30" dy="-26.2">3</tspan></text>
<text x="866.7" y="701.6" font-size="42.5" text-anchor="middle">10<tspan font-size="30" dy="-26.2">4</tspan></text>
<text x="969.7" y="701.6" font-size="42.5" text-anchor="middle">10<tspan font-size="30" dy="-26.2">5</tspan></text>
<text x="141.3" y="668.3" font-size="42.5" text-anchor="end">10<tspan font-size="30" dy="-26.2">-1</tspan></text>
<text x="137.1" y="524.5" font-size="42.5" text-anchor="end">10<tspan font-size="30" dy="-26.2">0</tspan></text>
<text x="141.3" y="380.7" font-size="42.5" text-anchor="end">10<tspan font-size="30" dy="-26.2">1</tspan></text>
<text x="137.1" y="236.9" font-size="42.5" text-anchor="end">10<tspan font-size="30" dy="-26.2">2</tspan></text>
<text x="137.1" y="93.1" font-size="42.5" text-anchor="end">10<tspan font-size="30" dy="-26.2">3</tspan></text>
<text x="560.7" y="744.6" font-size="45" text-anchor="middle">Energy (eV/u)</text>
<text transform="translate(48.9,322.3) rotate(-90)" font-size="45.0" stroke-width="0.7" text-anchor="middle">Cross Section (10<tspan font-size="31.5" dy="-26.5">-16</tspan><tspan dy="26.5"> cm</tspan><tspan font-size="31.5" dy="-26.5">2</tspan><tspan dy="26.5">)</tspan></text>
</g>
</svg>
</body></html>
